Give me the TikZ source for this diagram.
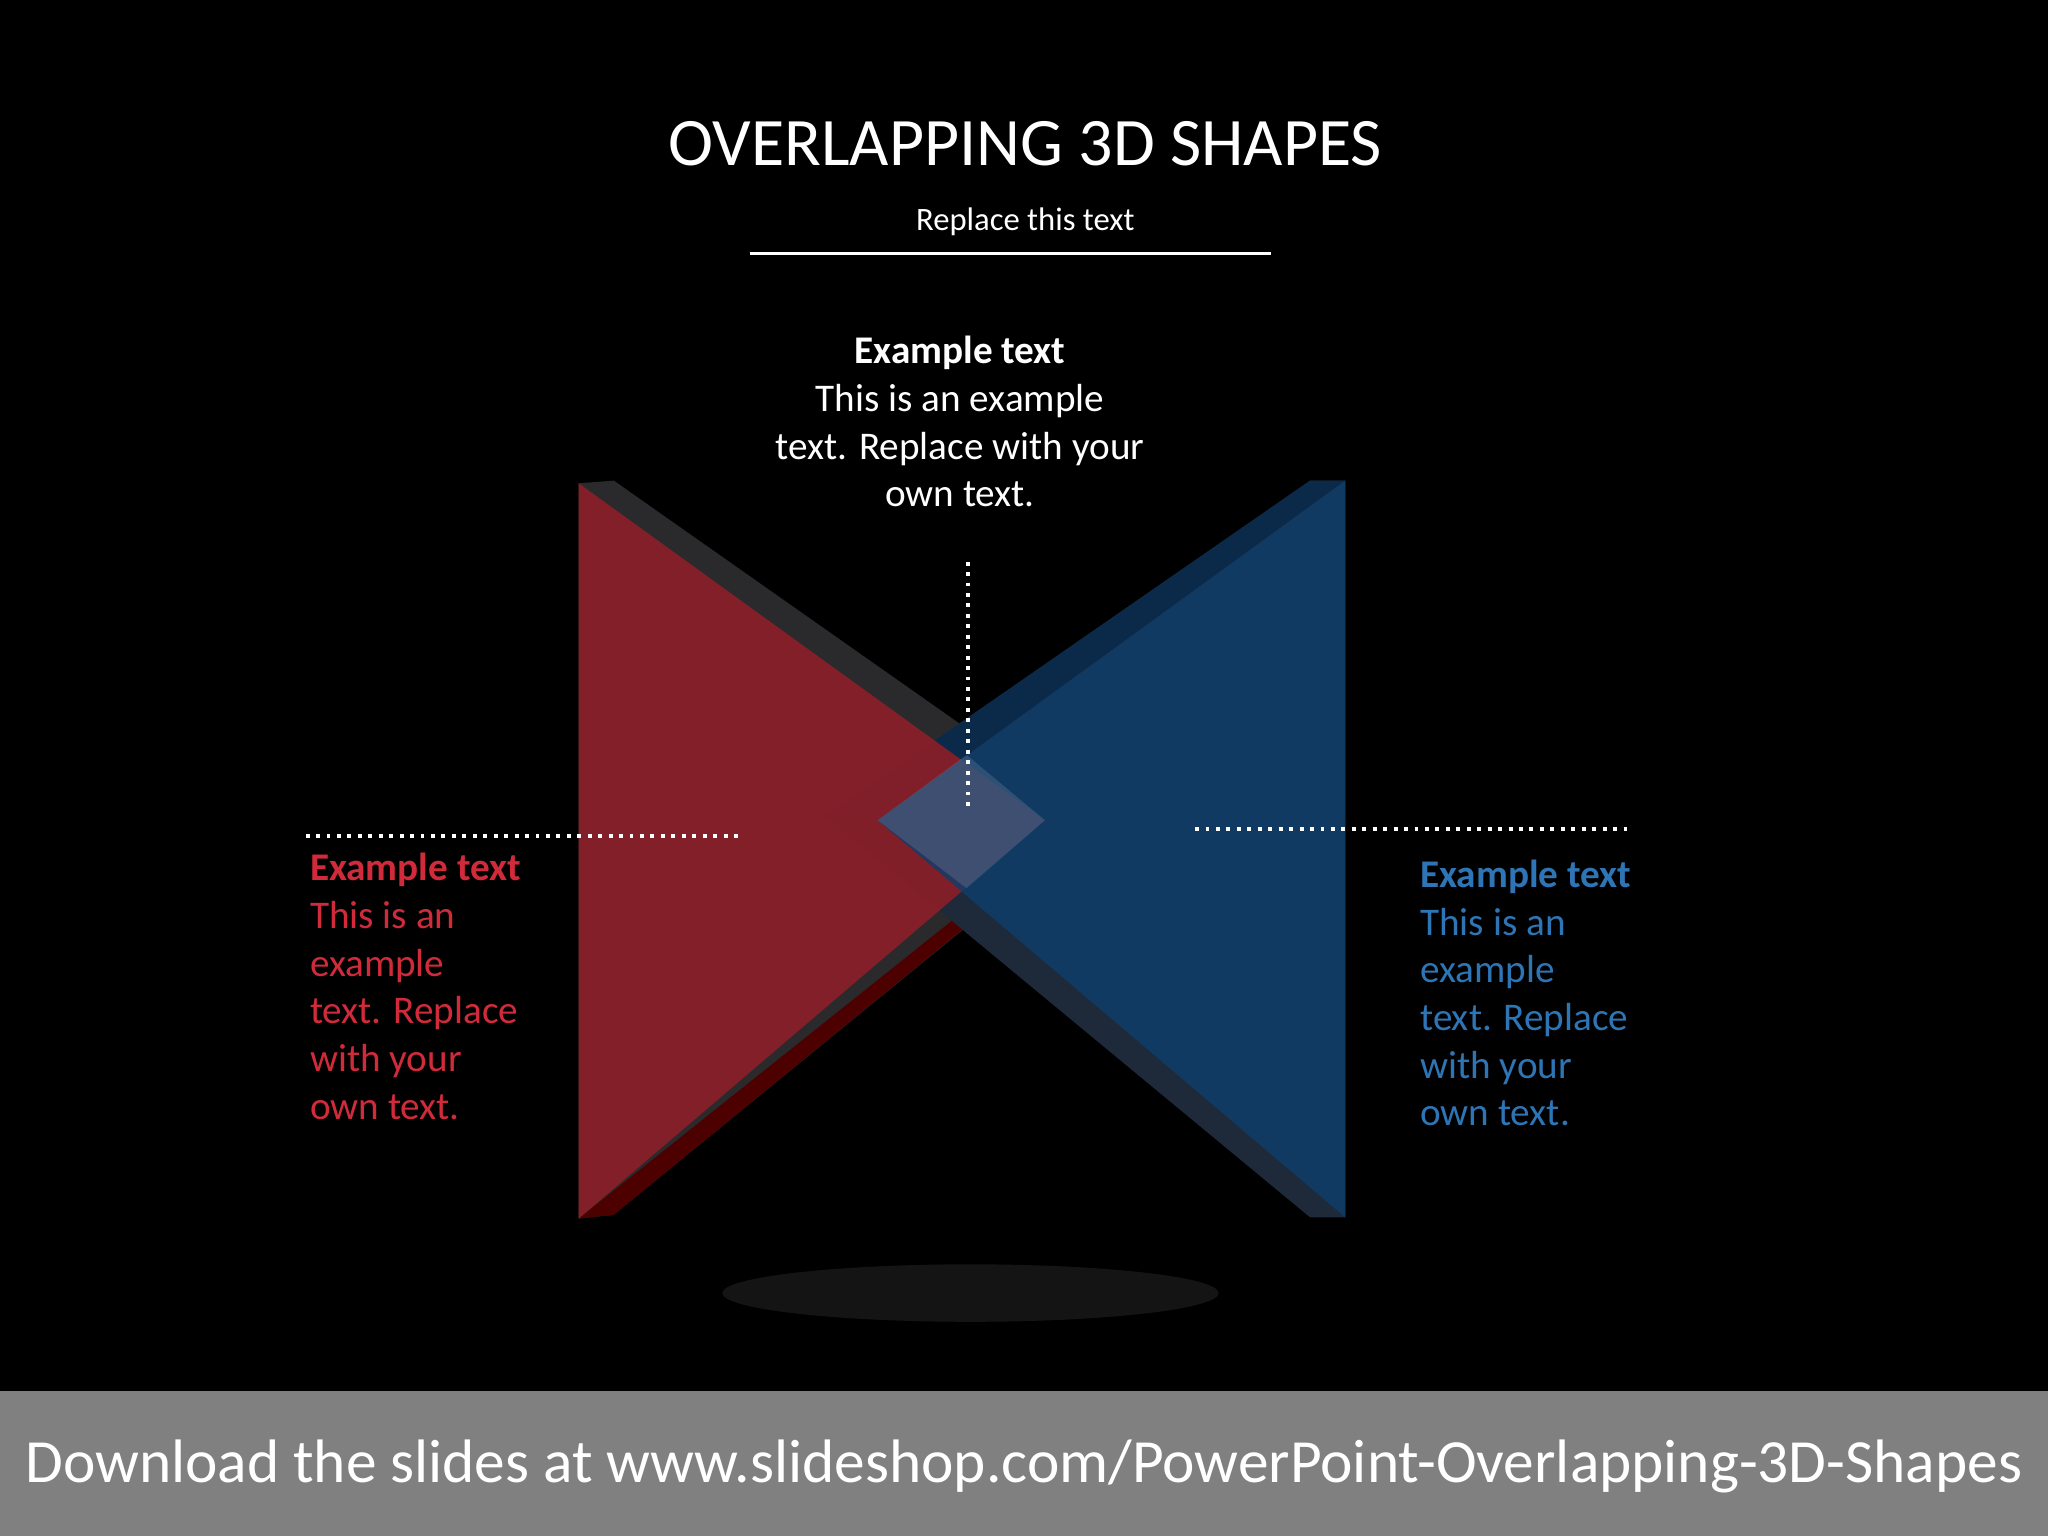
\documentclass[tikz,border=0pt]{standalone}
\usepackage{fontspec}
\setmainfont{Carlito}
\definecolor{redt}{HTML}{D12B3B}
\definecolor{bluet}{HTML}{2E75B6}
\definecolor{redface}{HTML}{8A1F28}
\definecolor{blueface}{HTML}{0E3E6C}
\definecolor{bev}{HTML}{2A2A2C}
\definecolor{bevb}{HTML}{1E2A3A}
\definecolor{bevbt}{HTML}{0B2A4A}
\begin{document}
\begin{tikzpicture}[x=0.5pt,y=-0.5pt,
  dots/.style={white,line width=1.5pt,dash pattern=on 1.5pt off 2.5pt},
  body/.style={align=left,anchor=north west,font=\fontsize{15}{18.25}\selectfont,inner sep=0pt}]
\fill[black] (0,0) rectangle (1568,1176);
\useasboundingbox (0,0) rectangle (1568,1176);
% shadow
\fill[black!92!white] (743,990) ellipse (190 and 22);
% red bevel
\fill[bev] (443,370) -- (470,368) -- (840,628) -- (470,930) -- (443,933) -- cycle;
\fill[red!30!black] (443,933) -- (470,930) -- (745,705) -- (735,700) -- cycle;
% blue bevel
\fill[bevb] (1030,368) -- (1003,368) -- (632,625) -- (1003,932) -- (1030,932) -- cycle;
\fill[bevbt] (1030,368) -- (1003,368) -- (632,625) -- (672,628) -- cycle;
% faces
\fill[redface,opacity=0.92] (443,370) -- (800,628) -- (443,933) -- cycle;
\fill[blueface,opacity=0.8] (1030,368) -- (672,628) -- (1030,932) -- cycle;
\fill[white,opacity=0.12] (672,628) -- (740,578) -- (800,628) -- (740,680) -- cycle;
% title
\node (title) at (785,110) {\fontsize{26}{30}\selectfont\color{white}OVERLAPPING 3D SHAPES};
\node (sub) at (785,170) {\fontsize{12.5}{14}\selectfont\color{white}Replace this text};
\draw[white,line width=1pt] (574,194) -- (973,194);
% center text
\node (ct) at (735,323) [align=center,font=\fontsize{15}{18.25}\selectfont,text=white,inner sep=0pt]
 {\textbf{Example text}\\This is an example\\text. Replace with your\\own text.};
\coordinate (v1) at (741,430); \coordinate (v2) at (741,620);
\draw[dots] (v1) -- (v2);
\coordinate (l1) at (234,640); \coordinate (l2) at (570,640);
\draw[dots] (l1) -- (l2);
\coordinate (r1) at (915,635); \coordinate (r2) at (1251,635);
\draw[dots] (r1) -- (r2);
\node (lt) at (237,653) [body,text=redt] {\textbf{Example text}\\This is an\\example\\text. Replace\\with your\\own text.};
\node (rt) at (1087,658) [body,text=bluet] {\textbf{Example text}\\This is an\\example\\text. Replace\\with your\\own text.};
% footer
\fill[black!50!white] (0,1065) rectangle (1568,1176);
\node (foot) at (784,1123) {\fontsize{23.5}{26}\selectfont\color{white}Download the slides at www.slideshop.com/PowerPoint-Overlapping-3D-Shapes};
\end{tikzpicture}
\end{document}
